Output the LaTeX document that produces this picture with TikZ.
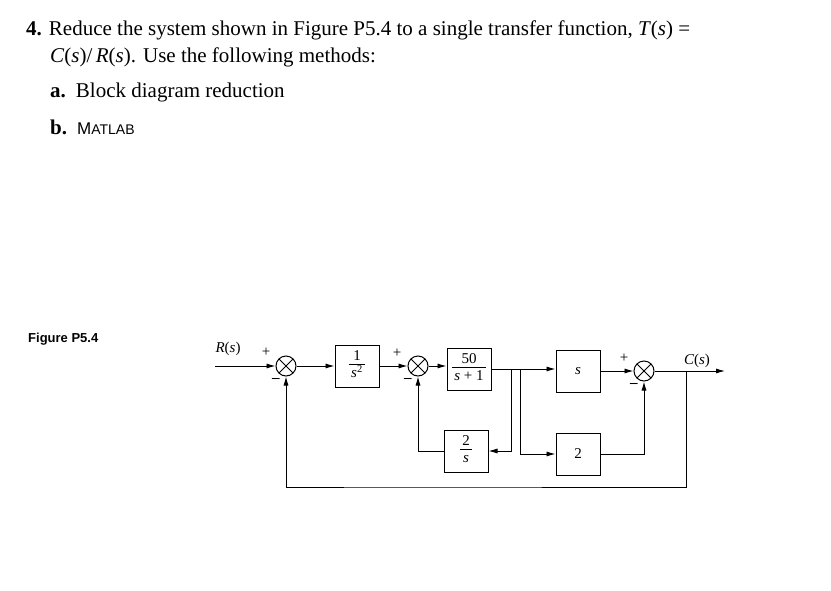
\documentclass[tikz,border=0pt]{standalone}
\usepackage{fontspec}
\setmainfont{Liberation Serif}
\newfontfamily\hsans{Liberation Sans}
\usetikzlibrary{arrows.meta}
\newcommand{\myfr}[2]{\begin{tabular}{@{\,}c@{\,}}#1\\[-1pt]\hline\rule{0pt}{13pt}#2\end{tabular}}
\begin{document}
\begin{tikzpicture}[x=1pt,y=-1pt,
  blk/.style={draw,line width=1pt,minimum width=44pt,minimum height=42pt,inner sep=0pt,font=\fontsize{15}{16}\selectfont},
  sm/.style={draw,line width=1pt,circle,minimum size=20pt,inner sep=0pt,path picture={\draw[line width=1pt] (path picture bounding box.north west)--(path picture bounding box.south east) (path picture bounding box.north east)--(path picture bounding box.south west);}},
  sig/.style={line width=0.9pt,-{Latex[length=9pt,width=5pt]}},
  ln/.style={line width=0.9pt},
  lab/.style={font=\fontsize{15}{16}\selectfont,inner sep=1pt},
  txt/.style={anchor=west,inner sep=0pt,font=\fontsize{21}{24}\selectfont}]
\useasboundingbox[fill=white] (0,0) rectangle (831,590);
\node[txt] (t1) at (26,30) {\textbf{4.} Reduce the system shown in Figure P5.4 to a single transfer function, \textit{T}(\textit{s}) =};
\node[txt] (t2) at (50,57) {\textit{C}(\textit{s})/\,\textit{R}(\textit{s}). Use the following methods:};
\node[txt] (t3) at (50,92) {\textbf{a.}\hspace{10pt}Block diagram reduction};
\node[txt] (t4) at (50,127) {\textbf{b.}\hspace{10pt}{\hsans\fontsize{17}{20}\selectfont M\fontsize{14}{20}\selectfont ATLAB}};
\node[anchor=west,inner sep=0pt,font=\hsans\bfseries\fontsize{13}{15}\selectfont] (fig) at (28,339) {Figure P5.4};

\node[sm] (s1) at (286,366) {};
\node[blk] (b1) at (357,366) {\myfr{1}{\textit{s}\textsuperscript{2}}};
\node[sm] (s2) at (418,366) {};
\node[blk] (b2) at (469,369) {\myfr{50}{\textit{s} + 1}};
\node[blk] (b3) at (466,451) {\myfr{2}{\textit{s}}};
\node[blk] (b4) at (578,371) {\textit{s}};
\node[blk] (b5) at (578,454) {2};
\node[sm] (s3) at (644,371) {};
\coordinate (rin) at (215,366);
\coordinate (cout) at (725,371);
\coordinate (p1) at (511,369);
\coordinate (p2) at (520,369);
\coordinate (p3) at (686,371);

\draw[sig] (rin) -- (s1);
\draw[sig] (s1) -- (b1.west |- s1);
\draw[sig] (b1.east |- s2) -- (s2);
\draw[sig] (s2) -- (b2.west |- s2);
\draw[ln] (b2.east |- p2) -- (p2);
\draw[sig] (p2) -- (b4.west |- p2);
\draw[sig] (p1) |- (b3.east);
\draw[sig] (b3.west) -| (s2.south);
\draw[sig] (p2) |- (b5.west);
\draw[sig] (b5.east) -| (s3.south);
\draw[sig] (b4.east |- s3) -- (s3);
\draw[sig] (s3) -- (cout);
\draw[sig] (p3) |- (400,487) -| (s1.south);

\node[lab] (l1) at (228,349) {\textit{R}(\textit{s})};
\node[lab] (l2) at (266,352) {+};
\node[lab] (l3) at (276,380) {\textbf{--}};
\node[lab] (l4) at (397,353) {+};
\node[lab] (l5) at (408,380) {\textbf{--}};
\node[lab] (l6) at (624,358) {+};
\node[lab] (l7) at (634,385) {\textbf{--}};
\node[lab] (l8) at (697,361) {\textit{C}(\textit{s})};
\end{tikzpicture}
\end{document}
